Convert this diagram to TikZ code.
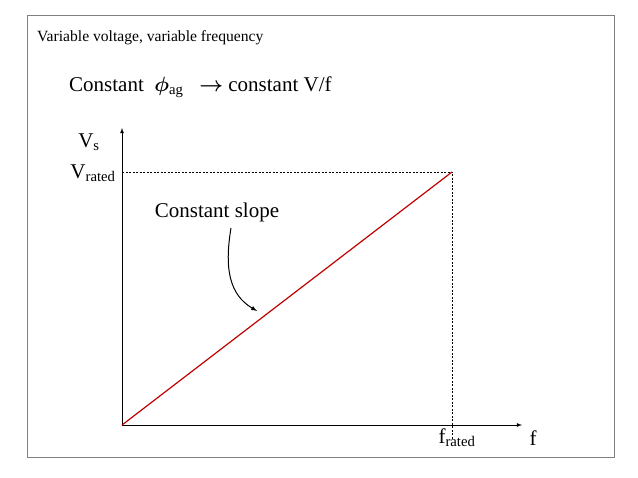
\documentclass[tikz,border=0pt]{standalone}
\usepackage{amsmath}
\usepackage{bm}
\usepackage{fontspec}
\setmainfont{Liberation Serif}
\begin{document}
\begin{tikzpicture}[x=1pt,y=-1pt,
  lbl/.style={inner sep=0pt,font=\fontsize{21}{24}\selectfont},
  ax/.style={line width=0.8pt,-latex},
  guide/.style={dashed,line width=0.4pt,dash pattern=on 2pt off 1.5pt}]
\useasboundingbox (0,0) rectangle (638,478);
\draw[line width=0.5pt,gray] (27,15) rectangle (614,457);
\node[inner sep=0pt,anchor=west,font=\fontsize{15.6}{18}\selectfont] (t) at (37,38) {Variable voltage, variable frequency};
\node[lbl,anchor=west] (c) at (69,87) {Constant \ $\bm{\phi}_{\mathrm{ag}}$ \ \ $\bm{\rightarrow}$ constant V/f};
\coordinate (o) at (122,425);
\coordinate (ytop) at (122,128);
\coordinate (xend) at (522,425);
\coordinate (p) at (452,172);
\coordinate (pv) at (122,172);
\coordinate (pf) at (452,440);
\draw[ax] (o) -- (ytop);
\draw[ax] (o) -- (xend);
\draw[guide] (pv) -- (p) -- (pf);
\draw[line width=1.2pt,red!75!black] (o) -- (p);
\node[lbl] (vs) at (89,142) {V\textsubscript{s}};
\node[lbl] (vr) at (93,173) {V\textsubscript{rated}};
\node[lbl] (fr) at (457,438) {f\textsubscript{rated}};
\node[lbl] (f) at (533,438) {f};
\node[lbl] (cs) at (217,212) {Constant slope};
\coordinate (a1) at (231,228);
\coordinate (a2) at (257,311);
\draw[line width=1pt,-latex] (a1) .. controls (224,270) and (230,295) .. (a2);
\end{tikzpicture}
\end{document}
